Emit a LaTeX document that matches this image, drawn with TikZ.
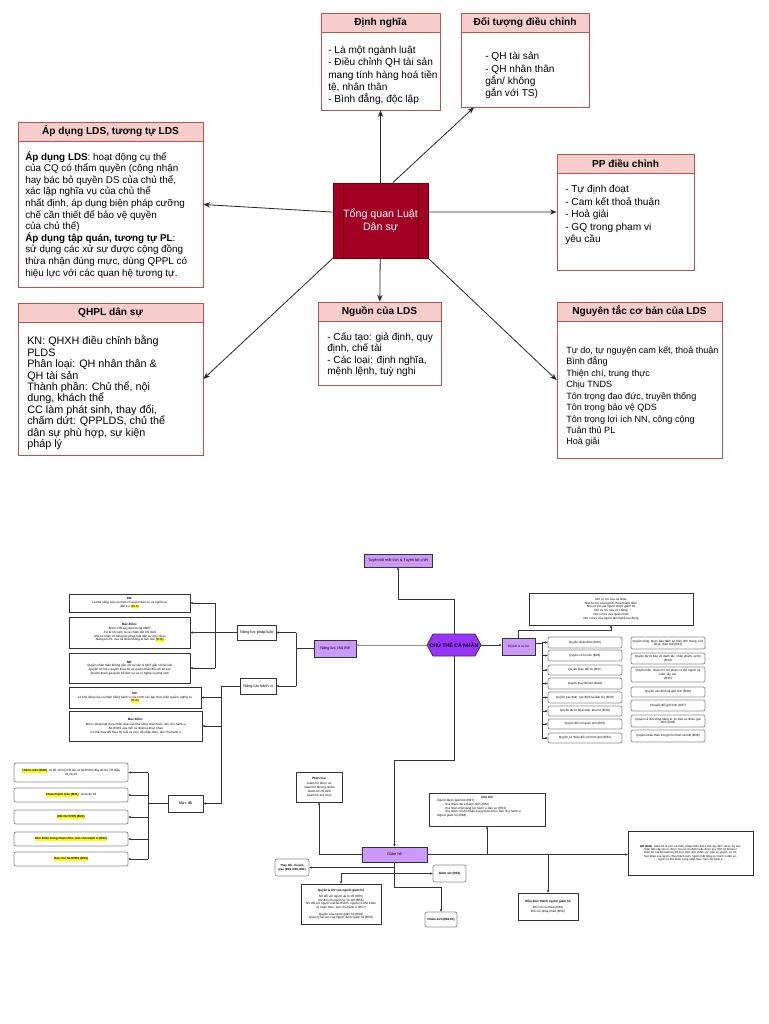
\documentclass[tikz,border=0pt]{standalone}
\usepackage{fontspec}
\setmainfont{Liberation Sans}
\usetikzlibrary{arrows.meta,fit,calc}
\definecolor{hdr}{HTML}{F8CECC}
\definecolor{hdrb}{HTML}{B85450}
\definecolor{crim}{HTML}{A20025}
\definecolor{crimb}{HTML}{6F0000}
\definecolor{lpur}{HTML}{CC99FF}
\definecolor{dpur}{HTML}{9933FF}
\definecolor{hlc}{HTML}{FFFF00}
\definecolor{ink}{HTML}{333333}
\newcommand{\hlt}[1]{{\setlength{\fboxsep}{0.15pt}\colorbox{hlc}{#1}}}
\begin{document}
\begin{tikzpicture}[x=0.75pt,y=-0.75pt,
  tbox/.style={draw=hdrb, line width=0.6pt, fill=white, inner sep=0pt},
  thead/.style={draw=hdrb, line width=0.6pt, fill=hdr, inner sep=0pt},
  hlab/.style={inner sep=0pt, font=\bfseries\fontsize{7.6}{9}\selectfont},
  tbody/.style={inner sep=0pt, anchor=north west, align=left, font=\fontsize{7.6}{8.7}\selectfont},
  tbodyb/.style={tbody, font=\fontsize{7.6}{9.2}\selectfont},
  arr/.style={-{Stealth[length=5pt,width=4pt]}, line width=0.6pt, black!85},
  bx/.style={draw=ink, line width=0.55pt, fill=white, inner sep=0pt},
  rbx/.style={bx, rounded corners=1.5pt, draw=black!45},
  pbx/.style={bx, fill=lpur},
  lb/.style={inner sep=0pt, align=center},
  f0/.style={lb, font=\fontsize{2.1}{2.6}\selectfont},
  f1/.style={lb, font=\fontsize{2.3}{2.8}\selectfont},
  f2/.style={lb, font=\fontsize{2.9}{3.5}\selectfont},
  ln/.style={line width=0.6pt, ink},
  sa/.style={-{Stealth[length=2pt,width=1.8pt]}, line width=0.6pt, ink}
]
\path[use as bounding box, fill=white] (0,0) rectangle (768,1024);

% ===================== TOP PART =====================
\node[tbox, fit={(321,13) (440,110)}] (dn) {};
\node[thead, fit={(321,13) (440,32)}] (dnh) {};
\node[hlab] (dnhl) at (dnh.center) {Định nghĩa};
\node[tbodyb] (dnt) at (328,46) {- Là một ngành luật\\- Điều chỉnh QH tài sản\\mang tính hàng hoá tiền\\tệ, nhân thân\\- Bình đẳng, độc lập};

\node[tbox, fit={(461,13) (589,107)}] (dt) {};
\node[thead, fit={(461,13) (589,32)}] (dth) {};
\node[hlab] (dthl) at (dth.center) {Đối tượng điều chỉnh};
\node[tbodyb] (dtt) at (485,52) {- QH tài sản\\- QH nhân thân\\gắn/ không\\gắn với TS)};

\node[tbox, fit={(18,122) (203,287)}] (ap) {};
\node[thead, fit={(18,122) (203,141)}] (aph) {};
\node[hlab] (aphl) at (aph.center) {Áp dụng LDS, tương tự LDS};
\node[tbody, font=\fontsize{7.4}{8.7}\selectfont] (apt) at (25,151) {\textbf{Áp dụng LDS}: hoạt động cụ thể\\của CQ có thẩm quyền (công nhận\\hay bác bỏ quyền DS của chủ thể,\\xác lập nghĩa vụ của chủ thể\\nhất định, áp dụng biện pháp cưỡng\\chế cần thiết để bảo vệ quyền\\của chủ thể)\\\textbf{Áp dụng tập quán, tương tự PL}:\\sử dụng các xử sự được cộng đồng\\thừa nhận đúng mực, dùng QPPL có\\hiệu lực với các quan hệ tương tự.};

\node[tbox, fit={(557,154) (694,270)}] (pp) {};
\node[thead, fit={(557,154) (694,173)}] (pph) {};
\node[hlab] (pphl) at (pph.center) {PP điều chỉnh};
\node[tbody, font=\fontsize{7.6}{9.4}\selectfont] (ppt) at (565,185) {- Tự định đoạt\\- Cam kết thoả thuận\\- Hoả giải\\- GQ trong phạm vi\\yêu cầu};

\node[tbox, fit={(18,303) (203,455)}] (qh) {};
\node[thead, fit={(18,303) (203,322)}] (qhh) {};
\node[hlab] (qhhl) at (qhh.center) {QHPL dân sự};
\node[tbody, font=\fontsize{8.1}{8.6}\selectfont] (qht) at (27,335) {KN: QHXH điều chỉnh bằng\\PLDS\\Phân loại: QH nhân thân \&\\QH tài sản\\Thành phần: Chủ thể, nội\\dung, khách thể\\CC làm phát sinh, thay đổi,\\chấm dứt: QPPLDS, chủ thể\\dân sự phù hợp, sự kiện\\pháp lý};

\node[tbox, fit={(318,302) (441,385)}] (ng) {};
\node[thead, fit={(318,302) (441,321)}] (ngh) {};
\node[hlab] (nghl) at (ngh.center) {Nguồn của LDS};
\node[tbody] (ngt) at (327,332) {- Cấu tạo: giả định, quy\\định, chế tài\\- Các loại: định nghĩa,\\mệnh lệnh, tuỳ nghi};

\node[tbox, fit={(557,302) (722,458)}] (nt) {};
\node[thead, fit={(557,302) (722,321)}] (nth) {};
\node[hlab] (nthl) at (nth.center) {Nguyên tắc cơ bản của LDS};
\node[tbody, font=\fontsize{6.8}{8.6}\selectfont] (ntt) at (566,346) {Tự do, tự nguyện cam kết, thoả thuận\\Bình đẳng\\Thiện chí, trung thực\\Chịu TNDS\\Tôn trọng đạo đức, truyền thống\\Tôn trọng bảo vệ QDS\\Tôn trọng lợi ích NN, công cộng\\Tuân thủ PL\\Hoà giải};

\node[fill=crim, draw=crimb, line width=0.6pt, inner sep=0pt, fit={(333,183) (428,258)}] (cen) {};
\draw[crimb, line width=0.6pt] (343,183) -- (343,258) (418,183) -- (418,258);
\node[text=white, align=center, inner sep=0pt, font=\fontsize{8}{10}\selectfont] (cent) at (cen.center) {Tổng quan Luật\\Dân sự};

\draw[arr] (cen) -- (dn);
\draw[arr] (cen.72) -- (dt);
\draw[arr] (cen.170) -- (ap.east);
\draw[arr] (cen.10) -- (pp.west);
\draw[arr] (cen.south west) -- (qh.east);
\draw[arr] (cen) -- (ng);
\draw[arr] (cen.south east) -- (nt.west);

% ===================== BOTTOM PART =====================
% Nang luc phap luat
\node[bx, fit={(69,594) (190,612)}] (plkn) {};
\node[f1] (plknt) at (plkn.center) {\textbf{KN:}\\Là khả năng của cá nhân có quyền dân sự và nghĩa vụ\\dân sự \hlt{(Đ16)}};
\node[bx, fit={(69,617) (190,648)}] (pldd) {};
\node[f1] (plddt) at (pldd.center) {\textbf{Đặc điểm:}\\-Được NN quy định trong VBPL\\-Có từ khi sinh ra và chấm dứt khi chết\\-Mọi cá nhân có năng lực pháp luật dân sự như nhau\\-Năng lực PL của cá nhân không bị hạn chế \hlt{(Đ18)}};
\node[bx, fit={(69,653) (190,683)}] (plnd) {};
\node[f1] (plndt) at (plnd.center) {\textbf{ND:}\\-Quyền nhân thân không gắn với tài sản \& QNT gắn với tài sản\\-Quyền sở hữu, quyền thừa kế và quyền khác đối với tài sản\\-Quyền tham gia quan hệ dân sự và có nghĩa vụ phát sinh};
% Nang luc hanh vi
\node[bx, fit={(69,687) (201,708)}] (hvkn) {};
\node[f1] (hvknt) at (hvkn.center) {\textbf{KN:}\\Là khả năng của cá nhân bằng hành vi của mình xác lập, thực hiện quyền, nghĩa vụ\\\hlt{(Đ19)}};
\node[bx, fit={(69,711) (202,741)}] (hvdd) {};
\node[f1] (hvddt) at (hvdd.center) {\textbf{Đặc điểm:}\\[1pt]-Được pháp luật thừa nhận dựa vào khả năng nhận thức, làm chủ hành vi\\-NLHVDS của mỗi cá nhân là khác nhau\\-Có thể thay đổi theo độ tuổi và mức độ nhận thức, làm chủ hành vi};
% Muc do
\node[rbx, fit={(14,763) (128,782)}] (m1) {};
\node[f1] (m1t) at (m1.center) {\hlt{\textbf{Thành niên (Đ20)}}: từ đủ 18 tuổi trở lên có NLHVDS đầy đủ trừ TH điều\\22,23,24};
\node[rbx, fit={(14,788) (128,802)}] (m2) {};
\node[f1] (m2t) at (m2.center) {\hlt{\textbf{Chưa thành niên (Đ21)}}: chưa đủ 18};
\node[rbx, fit={(14,810) (128,824)}] (m3) {};
\node[f1] (m3t) at (m3.center) {\hlt{\textbf{Mất NLHVDS (Đ22)}}};
\node[rbx, fit={(14,832) (128,846)}] (m4) {};
\node[f1] (m4t) at (m4.center) {\hlt{\textbf{Khó khăn trong nhận thức, làm chủ hành vi (Đ23)}}};
\node[rbx, fit={(14,852) (128,866)}] (m5) {};
\node[f1] (m5t) at (m5.center) {\hlt{\textbf{Hạn chế NLHVDS (Đ24)}}};
\node[bx, fit={(168,795) (203,812)}] (md) {};
\node[f2] (mdt) at (md.center) {Mức độ};

\node[bx, fit={(237,625) (276,640)}] (nlpl) {};
\node[f2] (nlplt) at (nlpl.center) {Năng lực pháp luật};
\node[bx, fit={(240,678) (276,694)}] (nlhv) {};
\node[f2] (nlhvt) at (nlhv.center) {Năng lực hành vi};
\node[pbx, fit={(314,640) (356,657)}] (nlct) {};
\node[f2] (nlctt) at (nlct.center) {Năng lực chủ thể};
\node[pbx, fit={(364,554) (432,567)}] (tb) {};
\node[f2] (tbt) at (tb.center) {Tuyên bố mất tích \& Tuyên bố chết};

% hexagon
\draw[fill=dpur, draw=ink, line width=0.6pt] (427,645) -- (433,634) -- (475,634) -- (481,645) -- (475,656) -- (433,656) -- cycle;
\node[inner sep=0pt, minimum width=40.5pt, minimum height=16.5pt, font=\bfseries\fontsize{3.9}{4.5}\selectfont] (hex) at (454,645) {CHỦ THỂ CÁ NHÂN};

\node[pbx, fit={(502,638) (535,655)}] (ht) {};
\node[f1] (htt) at (ht.center) {Hộ tịch \& cư trú};
\node[bx, fit={(529,593) (693,625)}] (nct) {};
\node[f1] (nctt) at (nct.center) {Nơi cư trú của cá nhân\\Nơi cư trú của người chưa thành niên\\Nơi cư trú của người được giám hộ\\Nơi cư trú của vợ chồng\\Nơi cư trú của quân nhân\\Nơi cư trú của người làm nghề lưu động};

% rights left column
\node[rbx, fit={(548,637) (622,648)}] (q1) {};
\node[f1] (q1t) at (q1.center) {Quyền nhân thân (Đ25)};
\node[rbx, fit={(548,650) (622,661)}] (q2) {};
\node[f1] (q2t) at (q2.center) {Quyền có họ tên (Đ26)};
\node[rbx, fit={(548,665) (622,675)}] (q3) {};
\node[f1] (q3t) at (q3.center) {Quyền thay đổi họ (Đ27)};
\node[rbx, fit={(548,678) (622,689)}] (q4) {};
\node[f1] (q4t) at (q4.center) {Quyền thay đổi tên (Đ28)};
\node[rbx, fit={(548,692) (622,703)}] (q5) {};
\node[f1] (q5t) at (q5.center) {Quyền xác định, xác định lại dân tộc (Đ29)};
\node[rbx, fit={(548,706) (622,716)}] (q6) {};
\node[f1] (q6t) at (q6.center) {Quyền được khai sinh, khai tử (Đ30)};
\node[rbx, fit={(548,719) (622,729)}] (q7) {};
\node[f1] (q7t) at (q7.center) {Quyền đối với quốc tịch (Đ31)};
\node[rbx, fit={(548,733) (622,743)}] (q8) {};
\node[f1] (q8t) at (q8.center) {Quyền cá nhân đối với hình ảnh (Đ32)};
% rights right column
\node[rbx, fit={(631,637) (705,649)}] (r1) {};
\node[f1] (r1t) at (r1.center) {Quyền sống, được bảo đảm an toàn tính mạng, sức\\khoẻ, thân thể (Đ33)};
\node[rbx, fit={(631,653) (705,664)}] (r2) {};
\node[f1] (r2t) at (r2.center) {Quyền được bảo vệ danh dự, nhân phẩm, uy tín\\(Đ34)};
\node[rbx, fit={(631,667) (705,682)}] (r3) {};
\node[f1] (r3t) at (r3.center) {Quyền hiến, nhận mô, bộ phận cơ thể người và\\hiến, lấy xác\\(Đ35)};
\node[rbx, fit={(631,687) (705,697)}] (r4) {};
\node[f1] (r4t) at (r4.center) {Quyền xác định lại giới tính (Đ36)};
\node[rbx, fit={(631,700) (705,711)}] (r5) {};
\node[f1] (r5t) at (r5.center) {Chuyển đổi giới tính (Đ37)};
\node[rbx, fit={(631,715) (705,727)}] (r6) {};
\node[f1] (r6t) at (r6.center) {Quyền về đời sống riêng tư, bí mật cá nhân, gia\\đình (Đ38)};
\node[rbx, fit={(631,730) (705,742)}] (r7) {};
\node[f1] (r7t) at (r7.center) {Quyền nhân thân trong hôn nhân và GĐ (Đ39)};

% Giam ho
\node[pbx, fit={(362,847) (427,862)}] (gh) {};
\node[f2] (ght) at (gh.center) {Giám hộ};
\node[bx, fit={(296,772) (342,802)}] (pl) {};
\node[f1] (plt) at (pl.center) {\textbf{Phân loại}\\[1pt]-Giám hộ được cử\\-Giám hộ đương nhiên\\-Giám hộ chỉ định\\-Giám hộ lựa chọn};
\node[bx, fit={(429,793) (545,826)}] (ct) {};
\node[f1, anchor=north] (ctt) at (487,796) {\textbf{Chủ thể}};
\node[f1, anchor=north west, align=left] (ctl) at (436,799) {-Người được giám hộ (Đ47):\\\hspace*{6pt}+Cá nhân chưa thành niên (Đ52)\\\hspace*{6pt}+Cá nhân mất năng lực hành vi dân sự (Đ53)\\\hspace*{6pt}+Cá nhân có khó khăn trong nhận thức, làm chủ hành vi\\-Người giám hộ (Đ48)};
\node[bx, fit={(518,893) (578,920)}] (dk) {};
\node[f1] (dkt) at (dk.center) {\textbf{Điều kiện thành người giám hộ}\\[2pt]Đối với cá nhân (Đ49)\\Đối với pháp nhân (Đ50)};
\node[rbx, fit={(433,865) (466,882)}] (gs) {};
\node[f1] (gst) at (gs.center) {\textbf{Giám sát (Đ51)}};
\node[rbx, fit={(425,912) (457,927)}] (cd) {};
\node[f1] (cdt) at (cd.center) {\textbf{Chấm dứt (Đ62,63)}};
\node[rbx, fit={(275,859) (309,876)}] (td) {};
\node[lb, font=\fontsize{2.15}{2.7}\selectfont] (tdt) at (td.center) {\textbf{Thay đổi, chuyển}\\\textbf{giao (Đ59, Đ60, Đ61)}};
\node[bx, fit={(301,884) (381,924)}] (qnv) {};
\node[f1] (qnvt) at (qnv.center) {\textbf{Quyền \& NV của người giám hộ}\\[2pt]NV đối với người dưới 15t (Đ55)\\NV đối với người từ 15-18t (Đ56)\\NV đối với người mất NLHVDS, người có khó khăn\\về nhận thức, làm chủ hành vi (Đ57)\\[2pt]Quyền của người giám hộ (Đ58)\\Quản lý tài sản của người được giám hộ (Đ59)};
\node[bx, fit={(628,831) (753,875)}] (dnn) {};
\node[f0] (dnnt) at (dnn.center) {\textbf{ĐN (Đ46)}: Giám hộ là việc cá nhân, pháp nhân được luật quy định, được Ủy ban\\nhân dân cấp xã cử, được Tòa án chỉ định hoặc được quy định tại khoản 2\\Điều 48 của Bộ luật này để thực hiện việc chăm sóc, bảo vệ quyền, lợi ích\\hợp pháp của người chưa thành niên, người mất năng lực hành vi dân sự,\\người có khó khăn trong nhận thức, làm chủ hành vi};

% ---------- connectors bottom ----------
\draw[sa, draw=black!45] (hex.west) -- (hex.west -| nlct.east);
\coordinate (cv1) at (296,632.5);
\coordinate (cv2) at (296,686);
\draw[ln] (nlct.west) -- (nlct.west -| cv1);
\draw[ln] (cv1) -- (cv2);
\draw[sa] (cv1) -- (nlpl.east);
\draw[sa] (cv2) -- (nlhv.east);

\coordinate (pv1) at (215,603);
\coordinate (pv2) at (215,668);
\draw[ln] (nlpl.west) -- (nlpl.west -| pv1);
\draw[ln] (pv1) -- (pv2);
\draw[sa] (pv1) -- (plkn.east);
\draw[sa] (pv1 |- pldd.east) -- (pldd.east);
\draw[sa] (pv2) -- (plnd.east);

\coordinate (nv1) at (221,686);
\coordinate (nv2) at (221,803.5);
\draw[ln] (nlhv.west) -- (nv1) -- (nv2);
\draw[sa] (nv1 |- hvkn.east) -- (hvkn.east);
\draw[sa] (nv1 |- hvdd.east) -- (hvdd.east);
\draw[sa] (nv2) -- (md.east);

\coordinate (mv1) at (148,772.5);
\coordinate (mv2) at (148,859);
\draw[ln] (md.west) -- (md.west -| mv1);
\draw[ln] (mv1) -- (mv2);
\foreach \m in {m1,m2,m3,m4,m5} \draw[sa] (mv1 |- \m.east) -- (\m.east);

\draw[sa] (hex.north) -- ++(0,-34) -| (tb.south);
\draw[sa] (hex.east) -- (hex.east -| ht.west);
\draw[sa] (ht.north) -- ++(0,-7) -| (nct.south);
\coordinate (hv1) at (542,643);
\coordinate (hv2) at (542,738);
\draw[ln] (ht.east |- hv1) -- (hv1) -- (hv2);
\foreach \q in {q1,q2,q3,q4,q5,q6,q7,q8} \draw[sa] (hv1 |- \q.west) -- (\q.west);

\coordinate (hg) at (454,760);
\draw[sa] (hex.south) -- (hg) -| (gh.north);
\draw[sa] (gh.west) -| (pl.south);
\draw[sa] (gh.east) -- (gh.east -| dnn.west);
\draw[sa] (ct.south |- gh.east) -- (ct.south);
\draw[sa] (dk.north |- gh.east) -- (dk.north);
\draw[sa] (gh.south) |- (td.east);
\coordinate (gsj) at (394.5,873.5);
\draw[sa] (gsj) -- (gs.west);
\draw[ln] (gsj) -- (gsj -| qnv.north);
\draw[sa] (gsj -| qnv.north) -- (qnv.north);
\coordinate (cdk) at (394.5,887);
\draw[sa] (gh.south) -- (cdk) -| (cd.north);
\end{tikzpicture}
\end{document}
